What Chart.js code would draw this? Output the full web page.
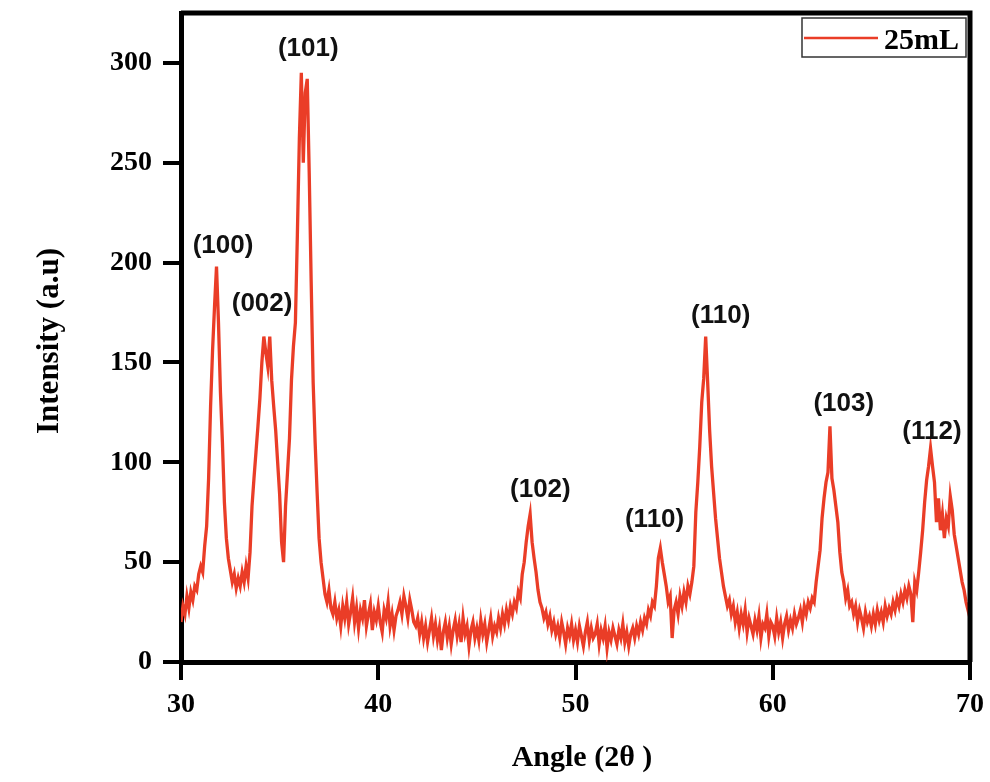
<!DOCTYPE html>
<html>
<head>
<meta charset="utf-8">
<script src="https://cdn.jsdelivr.net/npm/chart.js@4.4.0/dist/chart.umd.min.js"></script>
<style>
  html, body { margin: 0; padding: 0; background: #fff; }
  #wrap { width: 990px; height: 782px; }
</style>
</head>
<body>
<div id="wrap"><canvas id="xrdChart" width="990" height="782"></canvas></div>
<script>
// XRD pattern, 25mL sample. Angle from 30 to 70 in steps of 0.1 degree.
const angleStart = 30;
const angleStep = 0.1;

// Intensity, one row per degree (x.0 ... x.9), last value at 70.0
const intensity = [
  20, 28, 24, 33, 27, 35, 31, 38, 36, 44,        // 30
  48, 45, 58, 68, 92, 128, 156, 178, 198, 170,   // 31
  135, 110, 80, 62, 52, 46, 40, 44, 37, 42,      // 32
  38, 45, 40, 48, 42, 55, 78, 92, 105, 118,      // 33
  132, 150, 163, 155, 148, 163, 141, 128, 116, 100, // 34
  84, 60, 50, 78, 95, 112, 141, 158, 170, 214,   // 35
  262, 295, 250, 285, 292, 245, 190, 140, 110, 85, // 36
  62, 50, 42, 34, 30, 36, 27, 24, 30, 22,        // 37
  26, 18, 28, 22, 30, 19, 25, 32, 20, 27,        // 38
  17, 26, 22, 31, 18, 24, 29, 16, 25, 21,        // 39
  28, 20, 15, 26, 22, 30, 18, 24, 16, 23,        // 40
  26, 30, 24, 33, 28, 22, 31, 26, 20, 18,        // 41
  22, 14, 20, 12, 18, 10, 16, 22, 13, 19,        // 42
  11, 17, 6, 15, 20, 12, 18, 9, 16, 21,          // 43
  13, 19, 10, 22, 14, 18, 8, 16, 20, 12,         // 44
  17, 11, 21, 14, 19, 10, 16, 22, 13, 18,        // 45
  15, 22, 17, 24, 19, 26, 21, 28, 24, 30,        // 46
  27, 35, 32, 44, 50, 60, 68, 74, 60, 52,        // 47
  45, 36, 30, 27, 22, 25, 19, 23, 16, 20,        // 48
  14, 18, 12, 20, 15, 9, 17, 13, 19, 11,         // 49
  16, 10, 18, 13, 8, 15, 20, 11, 17, 12,         // 50
  14, 19, 9, 16, 12, 18, 7, 15, 11, 17,          // 51
  13, 9, 16, 12, 19, 10, 15, 8, 14, 17,          // 52
  12, 18, 14, 20, 16, 22, 19, 26, 23, 30,        // 53
  28, 38, 52, 57, 50, 44, 38, 30, 33, 12,        // 54
  26, 30, 24, 33, 28, 35, 30, 38, 34, 40,        // 55
  48, 75, 90, 108, 130, 142, 163, 140, 116, 98,  // 56
  85, 72, 62, 52, 45, 38, 33, 28, 31, 24,        // 57
  28, 20, 25, 17, 24, 19, 26, 15, 22, 18,        // 58
  14, 21, 16, 23, 12, 19, 17, 24, 13, 20,        // 59
  18, 13, 22, 15, 20, 12, 19, 23, 16, 21,        // 60
  17, 24, 19, 22, 26, 20, 28, 24, 30, 27,        // 61
  32, 30, 40, 48, 56, 72, 82, 90, 95, 118,       // 62
  92, 86, 78, 70, 55, 45, 40, 32, 36, 28,        // 63
  30, 24, 28, 20, 26, 22, 17, 25, 20, 23,        // 64
  18, 24, 19, 26, 21, 25, 20, 28, 23, 27,        // 65
  24, 30, 26, 32, 28, 34, 30, 36, 32, 38,        // 66
  34, 20, 40, 36, 45, 55, 66, 80, 91, 98,        // 67
  107, 98, 90, 70, 82, 66, 74, 62, 72, 68,       // 68
  83, 76, 64, 58, 52, 46, 40, 36, 30, 26,        // 69
  30                                             // 70
];

const xTicks = [30, 40, 50, 60, 70];
const yTicks = [0, 50, 100, 150, 200, 250, 300];

// Miller indices written above the peaks
const peakNames = ['(100)', '(002)', '(101)', '(102)', '(110)', '(110)', '(103)', '(112)'];
const peakLabelX = [32.13, 34.11, 36.45, 48.22, 54.01, 57.36, 63.60, 68.07];
const peakLabelY = [208.5, 179.5, 307, 86, 71, 173.5, 129.5, 115.5];

const seriesName = '25mL';

const points = intensity.map((v, i) => ({ x: angleStart + i * angleStep, y: v }));

const red = '#ea3d27';
const serif = '"Liberation Serif", "Times New Roman", serif';

// draws frame, peak names, legend box and axis titles
const decorations = {
  id: 'decorations',
  afterDraw(chart) {
    const { ctx, chartArea: a, scales } = chart;
    ctx.save();

    ctx.strokeStyle = '#000';
    ctx.lineWidth = 5;
    ctx.beginPath();
    ctx.moveTo(a.left, a.top);
    ctx.lineTo(a.right, a.top);
    ctx.lineTo(a.right, a.bottom);
    ctx.stroke();

    ctx.fillStyle = '#111';
    ctx.font = 'bold 26px "Liberation Sans", Arial, sans-serif';
    ctx.textAlign = 'center';
    ctx.textBaseline = 'middle';
    peakNames.forEach((name, i) => {
      ctx.fillText(name, scales.x.getPixelForValue(peakLabelX[i]), scales.y.getPixelForValue(peakLabelY[i]));
    });

    // legend in the top right corner
    ctx.lineWidth = 1.5;
    ctx.strokeStyle = '#333';
    ctx.strokeRect(802, 18, 164, 39);
    ctx.strokeStyle = red;
    ctx.lineWidth = 2.5;
    ctx.beginPath();
    ctx.moveTo(804, 38);
    ctx.lineTo(878, 38);
    ctx.stroke();
    ctx.fillStyle = '#000';
    ctx.font = 'bold 30px ' + serif;
    ctx.textAlign = 'left';
    ctx.textBaseline = 'alphabetic';
    ctx.fillText(seriesName, 884, 49);

    // axis titles
    ctx.textAlign = 'center';
    ctx.textBaseline = 'middle';
    ctx.font = 'bold 30px ' + serif;
    ctx.fillText('Angle (2\u03b8 )', 582, 758);
    ctx.translate(50, 341);
    ctx.rotate(-Math.PI / 2);
    ctx.font = 'bold 31px ' + serif;
    ctx.fillText('Intensity (a.u)', 0, 0);

    ctx.restore();
  }
};

new Chart(document.getElementById('xrdChart'), {
  type: 'line',
  data: {
    datasets: [{
      label: seriesName,
      data: points,
      borderColor: red,
      borderWidth: 3.3,
      pointRadius: 0,
      tension: 0,
      fill: false
    }]
  },
  options: {
    responsive: false,
    animation: false,
    layout: { padding: { top: 13, right: 20, left: 0, bottom: 0 } },
    plugins: {
      legend: { display: false },
      tooltip: { enabled: false }
    },
    scales: {
      x: {
        type: 'linear',
        min: 30,
        max: 70,
        afterFit(scale) {
          scale.height = 120;
          scale.paddingLeft = 0;
          scale.paddingRight = 0;
        },
        afterBuildTicks(scale) { scale.ticks = xTicks.map(v => ({ value: v })); },
        border: { display: true, color: '#000', width: 5 },
        grid: { drawOnChartArea: false, drawTicks: true, tickLength: 18, lineWidth: 4, color: '#000' },
        ticks: {
          autoSkip: false,
          maxRotation: 0,
          padding: 8,
          color: '#000',
          font: { family: serif, size: 28, weight: 'bold' }
        }
      },
      y: {
        min: 0,
        max: 325,
        afterFit(scale) {
          scale.width = 181;
          scale.paddingTop = 0;
          scale.paddingBottom = 0;
        },
        afterBuildTicks(scale) { scale.ticks = yTicks.map(v => ({ value: v })); },
        border: { display: true, color: '#000', width: 5 },
        grid: { drawOnChartArea: false, drawTicks: true, tickLength: 18, lineWidth: 4, color: '#000' },
        ticks: {
          padding: 11,
          color: '#000',
          font: { family: serif, size: 28, weight: 'bold' }
        }
      }
    }
  },
  plugins: [decorations]
});
</script>
</body>
</html>
